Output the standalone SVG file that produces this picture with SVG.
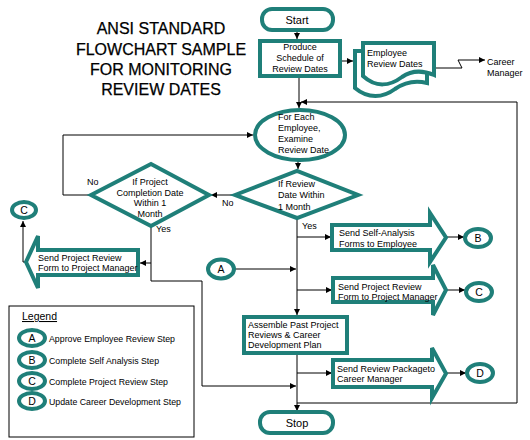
<svg xmlns="http://www.w3.org/2000/svg" width="530" height="440" viewBox="0 0 530 440">
<defs>
<style>
.sh{fill:#fff;stroke:#1f7f79;stroke-width:4}
.ln{fill:none;stroke:#000;stroke-width:1}
.t{font-family:"Liberation Sans",Arial,sans-serif;font-size:9px;fill:#000}
.tc{font-family:"Liberation Sans",Arial,sans-serif;font-size:9px;fill:#000;text-anchor:middle}
.tt{font-family:"Liberation Sans",Arial,sans-serif;font-size:11px;fill:#000;text-anchor:middle}
.ttl{font-family:"Liberation Sans",Arial,sans-serif;font-size:16px;fill:#000;text-anchor:middle;stroke:#000;stroke-width:0.25}
.cl{font-family:"Liberation Sans",Arial,sans-serif;font-size:10.5px;fill:#000;text-anchor:middle}
</style>
<marker id="ah" markerWidth="6" markerHeight="6" refX="6" refY="3" orient="auto" markerUnits="userSpaceOnUse">
<path d="M0,0 L6,3 L0,6 z" fill="#000"/>
</marker>
</defs>
<rect width="530" height="440" fill="#fff"/>

<g id="title">
<text class="ttl" x="161" y="34">ANSI STANDARD</text>
<text class="ttl" x="161" y="55">FLOWCHART SAMPLE</text>
<text class="ttl" x="161" y="75">FOR MONITORING</text>
<text class="ttl" x="161" y="95">REVIEW DATES</text>
</g>

<g id="connectors">
<path class="ln" d="M297,30 V39" marker-end="url(#ah)"/>
<path class="ln" d="M340,61 H353" marker-end="url(#ah)"/>
<path class="ln" d="M434,68 H462 L458,60 H485" marker-end="url(#ah)"/>
<path class="ln" d="M299,76 V108" marker-end="url(#ah)"/>
<path class="ln" d="M297,403 H517 V102 H301" marker-end="url(#ah)"/>
<path class="ln" d="M298,160 V169" marker-end="url(#ah)"/>
<path class="ln" d="M235,195 H211" marker-end="url(#ah)"/>
<path class="ln" d="M91,195 H63 V135 H253" marker-end="url(#ah)"/>
<path class="ln" d="M151,226 V281 H202 V386 H296" marker-end="url(#ah)"/>
<path class="ln" d="M151,263 H140" marker-end="url(#ah)"/>
<path class="ln" d="M26,262 H23 V221" marker-end="url(#ah)"/>
<path class="ln" d="M297,218 V315" marker-end="url(#ah)"/>
<path class="ln" d="M297,237 H331" marker-end="url(#ah)"/>
<path class="ln" d="M234,269 H296" marker-end="url(#ah)"/>
<path class="ln" d="M297,290 H332" marker-end="url(#ah)"/>
<path class="ln" d="M446,237 H464" marker-end="url(#ah)"/>
<path class="ln" d="M446,290 H465" marker-end="url(#ah)"/>
<path class="ln" d="M297,353 V411" marker-end="url(#ah)"/>
<path class="ln" d="M297,373 H332" marker-end="url(#ah)"/>
<path class="ln" d="M446,373 H466" marker-end="url(#ah)"/>
</g>

<g id="start">
<rect class="sh" x="262" y="9" width="71" height="21" rx="10"/>
<text class="tt" x="297" y="24">Start</text>
</g>

<g id="produce">
<rect class="sh" x="260" y="41" width="80" height="35"/>
<text class="tc" x="300" y="50">Produce</text>
<text class="tc" x="300" y="61">Schedule of</text>
<text class="tc" x="300" y="71.5">Review Dates</text>
</g>

<g id="employee-review-dates">
<path class="sh" d="M355,51 H427 V83 C415,80 405,82 395,89 C383,98 368,99 355,88 Z"/>
<path class="sh" d="M363,43 H434 V75 C422,70 412,70 402,77 C390,86 376,88 363,76 Z"/>
<text class="t" x="367" y="55.5">Employee</text>
<text class="t" x="367" y="66.5">Review Dates</text>
</g>

<g id="career-manager">
<text class="t" x="487" y="65">Career</text>
<text class="t" x="487" y="75.5">Manager</text>
</g>

<g id="for-each">
<ellipse class="sh" cx="300" cy="135" rx="45" ry="25"/>
<text class="t" x="278" y="120">For Each</text>
<text class="t" x="278" y="131">Employee,</text>
<text class="t" x="278" y="142">Examine</text>
<text class="t" x="278" y="153">Review Date</text>
</g>

<g id="review-date-decision">
<path class="sh" d="M235,195 L297,171 L358,195 L297,218 Z"/>
<text class="t" x="278" y="186.5">If Review</text>
<text class="t" x="278" y="198">Date Within</text>
<text class="t" x="278" y="209.5">1 Month</text>
<text class="t" x="222" y="206">No</text>
<text class="t" x="302" y="229">Yes</text>
</g>

<g id="project-decision">
<path class="sh" d="M91,195 L151,164 L209,195 L151,226 Z"/>
<text class="tc" x="150" y="185">If Project</text>
<text class="tc" x="150" y="195.5">Completion Date</text>
<text class="tc" x="150" y="206">Within 1</text>
<text class="tc" x="150" y="216.5">Month</text>
<text class="t" x="87" y="185">No</text>
<text class="t" x="156" y="232">Yes</text>
</g>

<g id="send-project-review-left">
<path class="sh" d="M138,250 H38 V236 L26,262 L38,288 V275 H138 Z"/>
<text class="t" x="38" y="260.5">Send Project Review</text>
<text class="t" x="38" y="270.5">Form to Project Manager</text>
</g>

<g id="connector-c-left">
<ellipse class="sh" cx="24" cy="210" rx="12" ry="8"/>
<text class="cl" x="24" y="214">C</text>
</g>

<g id="send-self-analysis">
<path class="sh" d="M332,225 H430 V213 L446,237.5 L430,262 V250 H332 Z"/>
<text class="t" x="339" y="235.5">Send Self-Analysis</text>
<text class="t" x="339" y="246.5">Forms to Employee</text>
</g>

<g id="connector-b">
<ellipse class="sh" cx="478" cy="238" rx="13" ry="9"/>
<text class="cl" x="478" y="242">B</text>
</g>

<g id="connector-a">
<ellipse class="sh" cx="221" cy="269" rx="13" ry="9.5"/>
<text class="cl" x="221" y="273">A</text>
</g>

<g id="send-project-review-right">
<path class="sh" d="M333,278 H433 V265 L446,290 L433,315 V302 H333 Z"/>
<text class="t" x="338" y="289.5">Send Project Review</text>
<text class="t" x="338" y="299.5">Form to Project Manager</text>
</g>

<g id="connector-c-right">
<ellipse class="sh" cx="479" cy="292" rx="13" ry="9"/>
<text class="cl" x="479" y="296">C</text>
</g>

<g id="assemble">
<rect class="sh" x="244" y="317" width="103" height="36"/>
<text class="t" x="248" y="327.5">Assemble Past Project</text>
<text class="t" x="248" y="337.5">Reviews &amp; Career</text>
<text class="t" x="248" y="347.5">Development Plan</text>
</g>

<g id="send-review-package">
<path class="sh" d="M333,360 H432 V348 L446,373.5 L432,398 V387 H333 Z"/>
<text class="t" x="337" y="371.5">Send Review Packageto</text>
<text class="t" x="337" y="381.5">Career Manager</text>
</g>

<g id="connector-d">
<ellipse class="sh" cx="480" cy="373" rx="13" ry="9"/>
<text class="cl" x="480" y="377">D</text>
</g>

<g id="stop">
<rect class="sh" x="260" y="412" width="73" height="21" rx="10"/>
<text class="tt" x="297" y="427">Stop</text>
</g>

<g id="legend">
<rect x="9" y="306" width="185" height="131" fill="#fff" stroke="#000" stroke-width="1"/>
<text class="t" x="22" y="320" style="font-size:10.5px;text-decoration:underline">Legend</text>
<ellipse class="sh" cx="32" cy="338" rx="13" ry="8"/>
<text class="cl" x="32" y="342">A</text>
<text class="t" x="49" y="341.5" textLength="126" lengthAdjust="spacingAndGlyphs">Approve Employee Review Step</text>
<ellipse class="sh" cx="32" cy="360" rx="13" ry="8"/>
<text class="cl" x="32" y="364">B</text>
<text class="t" x="49" y="363.5" textLength="110" lengthAdjust="spacingAndGlyphs">Complete Self Analysis Step</text>
<ellipse class="sh" cx="32" cy="381" rx="13" ry="8"/>
<text class="cl" x="32" y="385">C</text>
<text class="t" x="49" y="384.5" textLength="119" lengthAdjust="spacingAndGlyphs">Complete Project Review Step</text>
<ellipse class="sh" cx="32" cy="401" rx="13" ry="8"/>
<text class="cl" x="32" y="405">D</text>
<text class="t" x="49" y="404.5" textLength="132" lengthAdjust="spacingAndGlyphs">Update Career Development Step</text>
</g>
</svg>
